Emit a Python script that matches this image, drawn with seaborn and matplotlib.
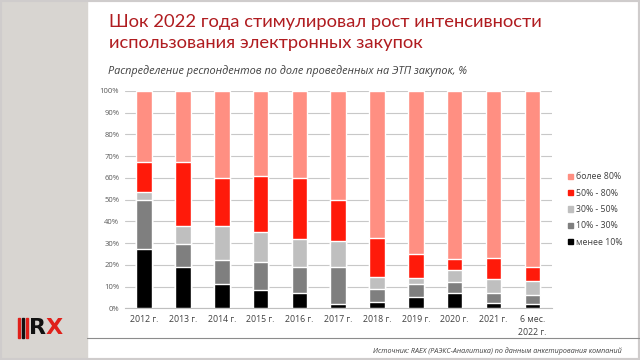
import numpy as np
import pandas as pd
import matplotlib.pyplot as plt
import matplotlib.patches as mpatches
import seaborn as sns

# Data (shares of respondents, %)
years = ['2012 г.', '2013 г.', '2014 г.', '2015 г.', '2016 г.', '2017 г.',
         '2018 г.', '2019 г.', '2020 г.', '2021 г.', '6 мес.\n2022 г.']
less_10 = [27.5, 19, 11, 8.5, 7, 2, 3, 5, 7, 2.5, 2]
p10_30 = [22.5, 10.5, 11, 13, 12, 17, 6, 6, 5, 4.5, 4]
p30_50 = [3.5, 8.5, 16, 13.5, 13, 12, 5.5, 3, 5.5, 6.5, 6.5]
p50_80 = [14, 29.5, 22, 26, 28, 19, 18, 11, 5, 9.5, 6.5]
more_80 = [32.5, 32.5, 40, 39, 40, 50, 67.5, 75, 77.5, 77, 81]

series = ['менее 10%', '10% - 30%', '30% - 50%', '50% - 80%', 'более 80%']
colors = ['#000000', '#7f7f7f', '#bfbfbf', '#ff1a0a', '#ff8f82']

df = pd.DataFrame({'year': years, 'менее 10%': less_10, '10% - 30%': p10_30,
                   '30% - 50%': p30_50, '50% - 80%': p50_80, 'более 80%': more_80})
cum = df[series].cumsum(axis=1)

sns.set_style('white')
plt.rcParams['font.family'] = ['Open Sans', 'DejaVu Sans']

fig = plt.figure(figsize=(6.4, 3.6), dpi=100)
fig.patch.set_facecolor('white')

# slide decoration: grey left strip, border, bottom rule
fig.patches.append(mpatches.Rectangle((0, 0), 0.136, 1, transform=fig.transFigure,
                                      color='#d8d5d1', zorder=0))
fig.patches.append(mpatches.Rectangle((0, 0), 1, 1, transform=fig.transFigure,
                                      fill=False, edgecolor='#cfcccc', lw=3, zorder=0))
fig.add_artist(plt.Line2D([0.136, 1], [0.061, 0.061], color='#8c8c8c', lw=0.8))

ax = fig.add_axes([0.195, 0.1436, 0.667, 0.604])

# stacked bars: draw cumulative totals from the top layer down
for name, color in zip(series[::-1], colors[::-1]):
    sns.barplot(x=df['year'], y=cum[name], color=color, width=0.4,
                saturation=1, ax=ax, zorder=3)

ax.set_ylim(0, 100)
ax.set_xlim(-0.5, len(years) - 0.5)
ax.set_yticks(np.arange(0, 101, 10))
ax.set_yticklabels([f'{v}%' for v in range(0, 101, 10)], fontsize=5.5, color='#595959')
ax.set_xticks(range(len(years)))
ax.set_xticklabels(years, fontsize=6.3, color='#404040', linespacing=1.5)
ax.set_xticks(np.arange(-0.5, len(years), 1), minor=True)
ax.tick_params(axis='x', which='major', length=0, pad=5)
ax.tick_params(axis='x', which='minor', length=3, color='#bfbfbf')
ax.tick_params(axis='y', length=0, pad=4)
ax.set_xlabel('')
ax.set_ylabel('')
ax.grid(axis='y', color='#c8c8c8', lw=0.8, zorder=0)
for s in ['top', 'right', 'left']:
    ax.spines[s].set_visible(False)
ax.spines['bottom'].set_color('#bfbfbf')
ax.spines['bottom'].set_linewidth(0.8)

handles = [mpatches.Patch(color=c, label=n) for n, c in zip(series[::-1], colors[::-1])]
ax.legend(handles=handles, loc='center left', bbox_to_anchor=(1.02, 0.454),
          frameon=False, fontsize=6.3, handlelength=0.6, handleheight=0.6,
          handletextpad=0.3, labelspacing=0.84, labelcolor='#404040')

title_font = ['Lato', 'DejaVu Sans']
fig.text(0.171, 0.924, 'Шок 2022 года стимулировал рост интенсивности',
         fontsize=13.2, color='#b01c20', va='baseline', ha='left', family=title_font)
fig.text(0.171, 0.866, 'использования электронных закупок',
         fontsize=13.2, color='#b01c20', va='baseline', ha='left', family=title_font)
fig.text(0.169, 0.795, 'Распределение респондентов по доле проведенных на ЭТП закупок, %',
         fontsize=7.8, style='italic', color='#404040', va='baseline')
fig.text(0.972, 0.025, 'Источник: RAEX (РАЭКС-Аналитика) по данным анкетирования компаний',
         fontsize=5.1, style='italic', color='#404040', ha='right', va='center')

# logo
for xx, c in zip([0.028, 0.034, 0.040], ['#e0201a', '#111111', '#e0201a']):
    fig.patches.append(mpatches.Rectangle((xx, 0.062), 0.004, 0.055,
                                          transform=fig.transFigure, color=c))
fig.text(0.046, 0.09, 'R', fontsize=16, fontweight='bold', color='#111111',
         va='center', ha='left', family=['DejaVu Sans'])
fig.text(0.071, 0.09, 'X', fontsize=16, fontweight='bold', color='#e0201a',
         va='center', ha='left', family=['DejaVu Sans'])

plt.savefig('out.png', dpi=100)
